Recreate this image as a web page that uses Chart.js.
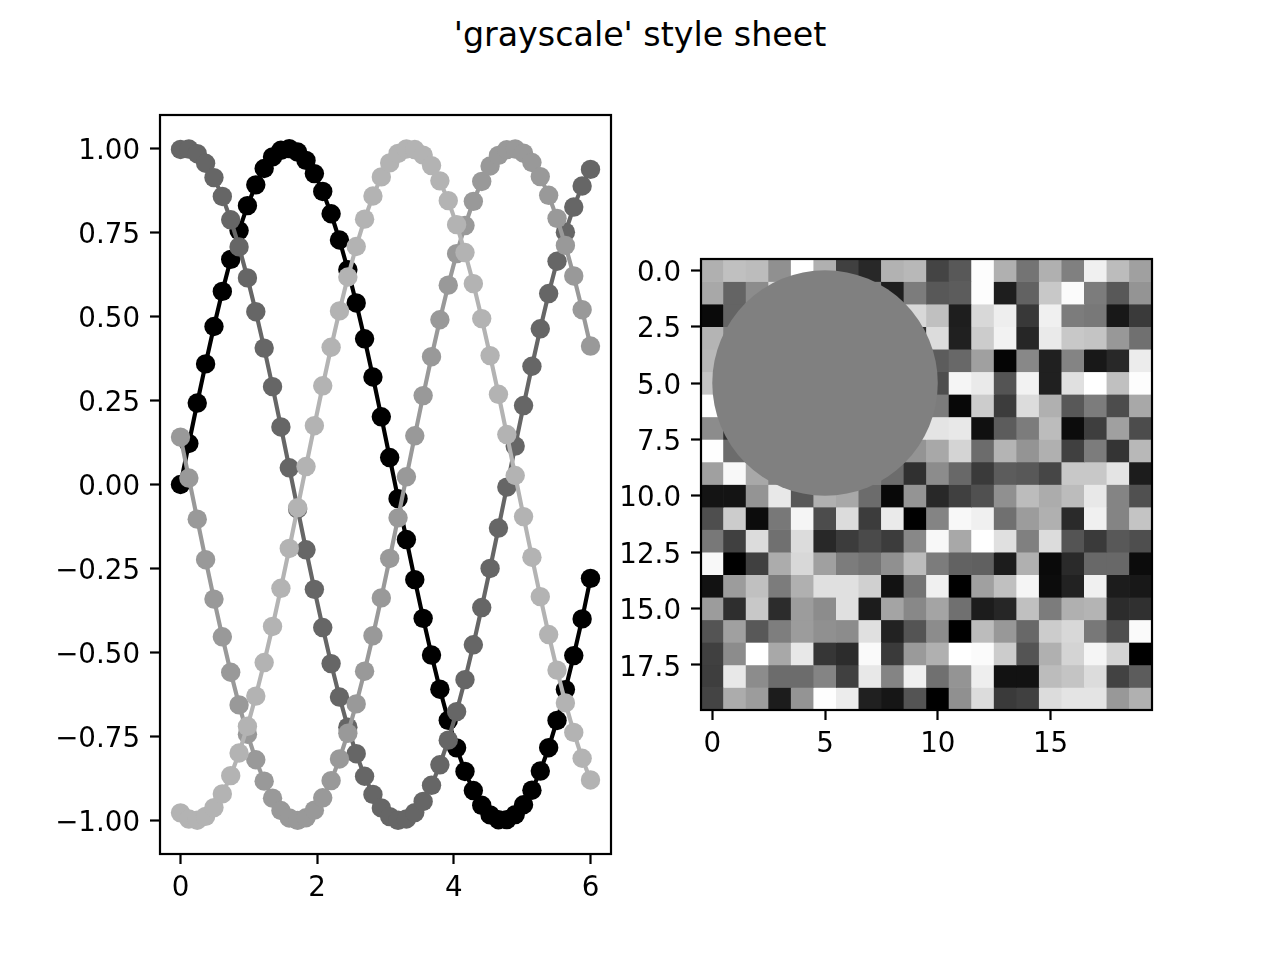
<!DOCTYPE html>
<html>
<head>
<meta charset="utf-8">
<title>grayscale style sheet</title>
<script src="https://cdn.jsdelivr.net/npm/chart.js@4"></script>
<style>
  html, body { margin: 0; padding: 0; background: #fff; }
  #title { position: absolute; left: 0; top: 15px; width: 1280px; text-align: center;
           font: 33.3px/40px "DejaVu Sans"; color: #000; }
  canvas { position: absolute; top: 0; }
  #lines { left: 0; }
  #image { left: 616px; }
</style>
</head>
<body>
<div id="title">'grayscale' style sheet</div>
<canvas id="lines" width="660" height="960"></canvas>
<canvas id="image" width="664" height="960"></canvas>
<script>
const xs = [0,.1224,.2449,.3673,.4898,.6122,.7347,.8571,.9796,1.102,
  1.2245,1.3469,1.4694,1.5918,1.7143,1.8367,1.9592,2.0816,2.2041,2.3265,
  2.449,2.5714,2.6939,2.8163,2.9388,3.0612,3.1837,3.3061,3.4286,3.551,
  3.6735,3.7959,3.9184,4.0408,4.1633,4.2857,4.4082,4.5306,4.6531,4.7755,
  4.898,5.0204,5.1429,5.2653,5.3878,5.5102,5.6327,5.7551,5.8776,6];

const blackLine = [0,.1221,.2425,.3591,.4704,.5748,.6703,.7559,.8301,.892,
  .9407,.9752,.9949,.9998,.9897,.9648,.9256,.8724,.806,.7279,
  .6392,.5404,.4338,.32,.2015,.0803,-.0421,-.1638,-.2832,-.3984,
  -.5077,-.6094,-.7019,-.784,-.8542,-.9111,-.955,-.9836,-.9979,-.9977,
  -.9828,-.9534,-.91,-.8531,-.7836,-.7024,-.6106,-.5094,-.4001,-.2794];

const darkLine = [.9975,.9986,.9847,.9564,.9136,.8575,.7881,.7073,.6151,.5144,
  .406,.2913,.1714,.0498,-.0726,-.1943,-.3121,-.4259,-.5332,-.6327,
  -.7225,-.8015,-.8685,-.9226,-.9628,-.9886,-.9996,-.9956,-.9768,-.9435,
  -.8955,-.8344,-.761,-.6762,-.581,-.4772,-.3663,-.2499,-.1297,-.0077,
  .1145,.235,.352,.4636,.5684,.6646,.751,.826,.8886,.938];

const midLine = [.1411,.0192,-.1031,-.2238,-.3412,-.4534,-.5589,-.6561,-.7433,-.8194,
  -.8832,-.9338,-.9705,-.9927,-1,-.9921,-.9695,-.9326,-.8816,-.817,
  -.7407,-.6532,-.5558,-.4501,-.3376,-.2202,-.0993,.0229,.145,.2646,
  .3804,.4905,.5934,.6872,.7709,.8429,.9022,.9482,.9798,.9969,
  .999,.9862,.9586,.9166,.8609,.7923,.7118,.6209,.5203,.4121];

const lightLine = [-.9775,-.996,-.9995,-.988,-.9618,-.9211,-.8667,-.7993,-.7199,-.6299,
  -.5301,-.4226,-.309,-.1904,-.0688,.0535,.175,.2939,.4086,.5168,
  .6177,.7085,.7899,.8589,.9157,.9574,.9855,.9989,.9972,.9806,
  .9494,.9039,.845,.7735,.6906,.598,.4939,.3838,.2685,.1487,
  .0268,-.0955,-.2164,-.3339,-.4466,-.5525,-.6502,-.738,-.815,-.8796];

const lineSeries = [blackLine, darkLine, midLine, lightLine];
const lineColors = ["#000000", "#666666", "#999999", "#b3b3b3"];

const lineXTicks = [0, 2, 4, 6];
const lineYTicks = [-1, -0.75, -0.5, -0.25, 0, 0.25, 0.5, 0.75, 1];
const imageXTicks = [0, 5, 10, 15];
const imageYTicks = [0, 2.5, 5, 7.5, 10, 12.5, 15, 17.5];

// gray levels of the image, one row per y, cells under the circle are guesses
const pixels = [
  [0xb0,0xc0,0xbc,0x90,0xff,0xb0,0x40,0x28,0xb2,0xb8,0x44,0x58,0xfd,0xb0,0x74,0xb0,0x80,0xf0,0xbc,0xa0],
  [0xa8,0x64,0x8c,0xe0,0x80,0x80,0x80,0x80,0x1e,0x7c,0x58,0x5c,0xfd,0x1e,0x62,0xc8,0xfb,0x7c,0x58,0x94],
  [0x0a,0x64,0x80,0x80,0x80,0x80,0x80,0x80,0x80,0xd8,0xc0,0x1e,0xd8,0xee,0x38,0xf0,0x7c,0x78,0x18,0x3a],
  [0xb4,0x80,0x80,0x80,0x80,0x80,0x80,0x80,0x80,0x30,0xdc,0x20,0xcc,0xf2,0x26,0xea,0xc8,0xc4,0x98,0x70],
  [0xb8,0x80,0x80,0x80,0x80,0x80,0x80,0x80,0x80,0x80,0x5c,0x68,0xa0,0x05,0x88,0x20,0x84,0x18,0x28,0xec],
  [0xc4,0x80,0x80,0x80,0x80,0x80,0x80,0x80,0x80,0x80,0x4e,0xf5,0xea,0x54,0xf2,0x20,0xe0,0xff,0xc0,0xfd],
  [0xfe,0x80,0x80,0x80,0x80,0x80,0x80,0x80,0x80,0x80,0x7c,0x08,0xcc,0x3c,0xdc,0xb0,0x58,0x7c,0x4c,0xa8],
  [0x8c,0x30,0x80,0x80,0x80,0x80,0x80,0x80,0x80,0xe4,0xe4,0xe8,0x10,0x5c,0x7c,0xbc,0x0c,0x3e,0xa0,0x4c],
  [0xfe,0x6c,0x80,0x80,0x80,0x80,0x80,0x80,0x80,0x94,0xa8,0xd4,0x6c,0xb4,0x94,0xb0,0x40,0x7c,0x34,0xb8],
  [0xa0,0xf8,0xa8,0x80,0x80,0x80,0x80,0x80,0x6c,0x30,0x8c,0x68,0x3a,0x5c,0x58,0x46,0xc8,0xc8,0xe4,0x1c],
  [0x14,0x14,0x94,0xe8,0x58,0xb0,0xa8,0x6c,0x08,0x94,0x28,0x40,0x50,0x90,0xbc,0xac,0xbc,0xe8,0x84,0x50],
  [0x4e,0xcc,0x0c,0x78,0xf5,0x4c,0xdc,0x3c,0xea,0x00,0x84,0xf8,0xf0,0x70,0x9c,0xb0,0x2a,0xf0,0x84,0xc4],
  [0x78,0x40,0xdc,0x70,0xdc,0x28,0x3c,0x4a,0x3c,0x88,0xf8,0xa8,0xff,0xe0,0x80,0xdc,0x54,0x3a,0x58,0x4e],
  [0xf8,0x00,0x40,0xac,0xd8,0xa0,0x7c,0x74,0x90,0xbc,0x7c,0x62,0x60,0x1c,0xb0,0x0a,0x2a,0x68,0x68,0x0c],
  [0x12,0x9c,0xc0,0x7c,0xb0,0xe0,0xe0,0xd0,0x12,0x74,0xf0,0x00,0xa0,0xc0,0xf5,0x0c,0x22,0xf0,0x1c,0x18],
  [0x9c,0x2e,0xc8,0x2c,0x9c,0x8c,0xe0,0x1c,0xa4,0x88,0xa4,0x70,0x1c,0x26,0xc0,0x7c,0xb0,0xb4,0x2c,0x30],
  [0x54,0xa0,0x58,0x7e,0x9c,0x90,0x8c,0xe0,0x22,0x54,0x8c,0x00,0xbc,0x98,0x68,0xcc,0xd8,0x78,0x4e,0xfa],
  [0x40,0x8c,0xff,0xa8,0xe8,0x36,0x2c,0xfa,0x3a,0x9a,0xb0,0xff,0xfb,0xcc,0x54,0xb0,0xd4,0xf5,0xd4,0x00],
  [0x3e,0xe8,0x8c,0x6c,0x6c,0x84,0x40,0xe8,0x84,0xf0,0x70,0x94,0xee,0x12,0x12,0xbc,0xc4,0xdc,0x42,0x5c],
  [0x44,0xac,0x9c,0x1c,0x94,0xfe,0xec,0x20,0x16,0x54,0x00,0x90,0xdc,0x3a,0x40,0xdc,0xe4,0xe4,0x98,0xb0]
];

const circleCenter = { x: 5, y: 5 };
const circleRadius = 5;

const tickFont = { family: "DejaVu Sans", size: 27.7 };

function axis(tickValues, digits, padding, labelOffset, extra) {
  return Object.assign({
    type: "linear",
    // bar charts turn grid.offset on by default, that moves the tick marks
    grid: { offset: false, drawOnChartArea: false, tickLength: 10, tickWidth: 2.2, tickColor: "#000" },
    border: { display: false },
    afterBuildTicks: s => { s.ticks = tickValues.map(v => ({ value: v })); },
    ticks: {
      autoSkip: false,
      maxRotation: 0,
      color: "#000",
      font: tickFont,
      padding: padding,
      labelOffset: labelOffset,
      callback: v => v.toFixed(digits).replace("-", "\u2212")
    }
  }, extra);
}

// matplotlib style box on all four sides
const frame = {
  id: "frame",
  afterDraw(chart) {
    const a = chart.chartArea, c = chart.ctx;
    c.save();
    c.strokeStyle = "#000";
    c.lineWidth = 2.2;
    c.strokeRect(a.left, a.top, a.right - a.left, a.bottom - a.top);
    c.restore();
  }
};

const baseOptions = {
  responsive: false,
  animation: false,
  devicePixelRatio: 1,
  plugins: { legend: { display: false }, tooltip: { enabled: false } }
};

new Chart(document.getElementById("lines"), {
  type: "line",
  data: {
    datasets: lineSeries.map((s, i) => ({
      data: s.map((v, j) => ({ x: xs[j], y: v })),
      borderColor: lineColors[i],
      backgroundColor: lineColors[i],
      borderWidth: 4.17,
      pointRadius: 9.7,
      pointBorderWidth: 0,
      tension: 0,
      order: lineSeries.length - i
    }))
  },
  options: Object.assign({}, baseOptions, {
    layout: { padding: { top: 115, right: 49, left: 0, bottom: 0 } },
    scales: {
      x: axis(lineXTicks, 0, 8, 0, { min: -0.3, max: 6.3, afterFit: s => { s.height = 106; } }),
      y: axis(lineYTicks, 2, 10, 3.5, { min: -1.1, max: 1.1, afterFit: s => { s.width = 160; } })
    }
  }),
  plugins: [frame]
});

const cellDatasets = pixels.map((row, r) => ({
  type: "bar",
  data: row.map((g, c) => ({ x: c, y: [r - 0.5, r + 0.5] })),
  backgroundColor: row.map(g => `rgb(${g},${g},${g})`),
  barPercentage: 1,
  categoryPercentage: 1,
  grouped: false,
  order: 1
}));

const circleDataset = {
  type: "scatter",
  data: [circleCenter],
  backgroundColor: "#808080",
  pointBorderWidth: 0,
  pointRadius: ctx => {
    const x = ctx.chart.scales.x;
    return Math.abs(x.getPixelForValue(circleRadius) - x.getPixelForValue(0));
  },
  order: 0
};

new Chart(document.getElementById("image"), {
  type: "bar",
  data: { datasets: cellDatasets.concat([circleDataset]) },
  options: Object.assign({}, baseOptions, {
    layout: { padding: { top: 259, right: 128, left: 0, bottom: 0 } },
    scales: {
      x: axis(imageXTicks, 0, 8, 0, { min: -0.5, max: 19.5, offset: false, afterFit: s => { s.height = 250; } }),
      y: axis(imageYTicks, 1, 10, 3.5, { min: -0.5, max: 19.5, reverse: true, afterFit: s => { s.width = 85; } })
    }
  }),
  plugins: [frame]
});
</script>
</body>
</html>
